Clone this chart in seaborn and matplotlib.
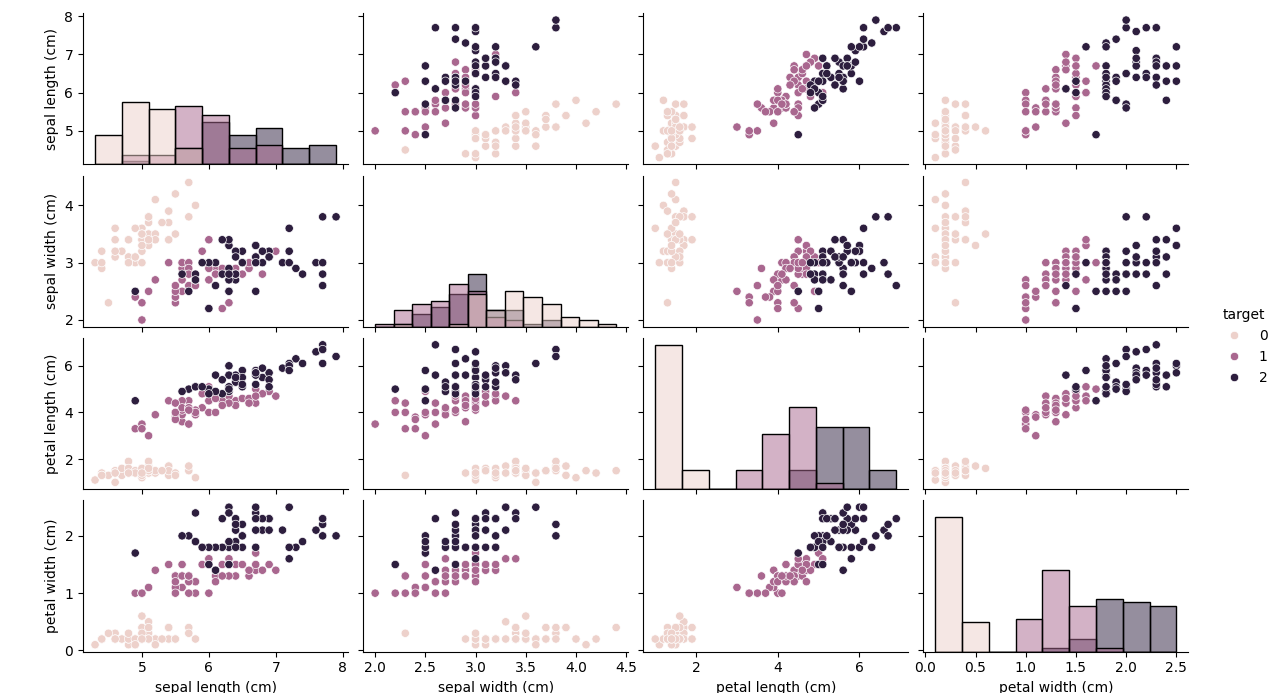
import pandas as pd
import seaborn as sns
import matplotlib.pyplot as plt

sepal_length = [5.1,4.9,4.7,4.6,5.0,5.4,4.6,5.0,4.4,4.9,5.4,4.8,4.8,4.3,5.8,5.7,5.4,5.1,5.7,5.1,5.4,5.1,4.6,5.1,4.8,5.0,5.0,5.2,5.2,4.7,4.8,5.4,5.2,5.5,4.9,5.0,5.5,4.9,4.4,5.1,5.0,4.5,4.4,5.0,5.1,4.8,5.1,4.6,5.3,5.0,
                7.0,6.4,6.9,5.5,6.5,5.7,6.3,4.9,6.6,5.2,5.0,5.9,6.0,6.1,5.6,6.7,5.6,5.8,6.2,5.6,5.9,6.1,6.3,6.1,6.4,6.6,6.8,6.7,6.0,5.7,5.5,5.5,5.8,6.0,5.4,6.0,6.7,6.3,5.6,5.5,5.5,6.1,5.8,5.0,5.6,5.7,5.7,6.2,5.1,5.7,
                6.3,5.8,7.1,6.3,6.5,7.6,4.9,7.3,6.7,7.2,6.5,6.4,6.8,5.7,5.8,6.4,6.5,7.7,7.7,6.0,6.9,5.6,7.7,6.3,6.7,7.2,6.2,6.1,6.4,7.2,7.4,7.9,6.4,6.3,6.1,7.7,6.3,6.4,6.0,6.9,6.7,6.9,5.8,6.8,6.7,6.7,6.3,6.5,6.2,5.9]
sepal_width = [3.5,3.0,3.2,3.1,3.6,3.9,3.4,3.4,2.9,3.1,3.7,3.4,3.0,3.0,4.0,4.4,3.9,3.5,3.8,3.8,3.4,3.7,3.6,3.3,3.4,3.0,3.4,3.5,3.4,3.2,3.1,3.4,4.1,4.2,3.1,3.2,3.5,3.6,3.0,3.4,3.5,2.3,3.2,3.5,3.8,3.0,3.8,3.2,3.7,3.3,
               3.2,3.2,3.1,2.3,2.8,2.8,3.3,2.4,2.9,2.7,2.0,3.0,2.2,2.9,2.9,3.1,3.0,2.7,2.2,2.5,3.2,2.8,2.5,2.8,2.9,3.0,2.8,3.0,2.9,2.6,2.4,2.4,2.7,2.7,3.0,3.4,3.1,2.3,3.0,2.5,2.6,3.0,2.6,2.3,2.7,3.0,2.9,2.9,2.5,2.8,
               3.3,2.7,3.0,2.9,3.0,3.0,2.5,2.9,2.5,3.6,3.2,2.7,3.0,2.5,2.8,3.2,3.0,3.8,2.6,2.2,3.2,2.8,2.8,2.7,3.3,3.2,2.8,3.0,2.8,3.0,2.8,3.8,2.8,2.8,2.6,3.0,3.4,3.1,3.0,3.1,3.1,3.1,2.7,3.2,3.3,3.0,2.5,3.0,3.4,3.0]
petal_length = [1.4,1.4,1.3,1.5,1.4,1.7,1.4,1.5,1.4,1.5,1.5,1.6,1.4,1.1,1.2,1.5,1.3,1.4,1.7,1.5,1.7,1.5,1.0,1.7,1.9,1.6,1.6,1.5,1.4,1.6,1.6,1.5,1.5,1.4,1.5,1.2,1.3,1.4,1.3,1.5,1.3,1.3,1.3,1.6,1.9,1.4,1.6,1.4,1.5,1.4,
                4.7,4.5,4.9,4.0,4.6,4.5,4.7,3.3,4.6,3.9,3.5,4.2,4.0,4.7,3.6,4.4,4.5,4.1,4.5,3.9,4.8,4.0,4.9,4.7,4.3,4.4,4.8,5.0,4.5,3.5,3.8,3.7,3.9,5.1,4.5,4.5,4.7,4.4,4.1,4.0,4.4,4.6,4.0,3.3,4.2,4.2,4.2,4.3,3.0,4.1,
                6.0,5.1,5.9,5.6,5.8,6.6,4.5,6.3,5.8,6.1,5.1,5.3,5.5,5.0,5.1,5.3,5.5,6.7,6.9,5.0,5.7,4.9,6.7,4.9,5.7,6.0,4.8,4.9,5.6,5.8,6.1,6.4,5.6,5.1,5.6,6.1,5.6,5.5,4.8,5.4,5.6,5.1,5.1,5.9,5.7,5.2,5.0,5.2,5.4,5.1]
petal_width = [0.2,0.2,0.2,0.2,0.2,0.4,0.3,0.2,0.2,0.1,0.2,0.2,0.1,0.1,0.2,0.4,0.4,0.3,0.3,0.3,0.2,0.4,0.2,0.5,0.2,0.2,0.4,0.2,0.2,0.2,0.2,0.4,0.1,0.2,0.2,0.2,0.2,0.1,0.2,0.2,0.3,0.3,0.2,0.6,0.4,0.3,0.2,0.2,0.2,0.2,
               1.4,1.5,1.5,1.3,1.5,1.3,1.6,1.0,1.3,1.4,1.0,1.5,1.0,1.4,1.3,1.4,1.5,1.0,1.5,1.1,1.8,1.3,1.5,1.2,1.3,1.4,1.4,1.7,1.5,1.0,1.1,1.0,1.2,1.6,1.5,1.6,1.5,1.3,1.3,1.3,1.2,1.4,1.2,1.0,1.3,1.2,1.3,1.3,1.1,1.3,
               2.5,1.9,2.1,1.8,2.2,2.1,1.7,1.8,1.8,2.5,2.0,1.9,2.1,2.0,2.4,2.3,1.8,2.2,2.3,1.5,2.3,2.0,2.0,1.8,2.1,1.8,1.8,1.8,2.1,1.6,1.9,2.0,2.2,1.5,1.4,2.3,2.4,1.8,1.8,2.1,2.4,2.3,1.9,2.3,2.5,2.3,1.9,2.0,2.3,1.8]
target = [0] * 50 + [1] * 50 + [2] * 50

df = pd.DataFrame({
    "sepal length (cm)": sepal_length,
    "sepal width (cm)": sepal_width,
    "petal length (cm)": petal_length,
    "petal width (cm)": petal_width,
    "target": target,
})

g = sns.pairplot(df, hue="target", diag_kind="hist")
g.fig.set_size_inches(12.8, 6.93)
g.fig.subplots_adjust(left=83 / 1280, right=1188.4 / 1280, top=1 - 13.2 / 693, bottom=1 - 651.6 / 693,
                      wspace=0.0566, hspace=0.0734)

plt.savefig("out.png", dpi=100)
